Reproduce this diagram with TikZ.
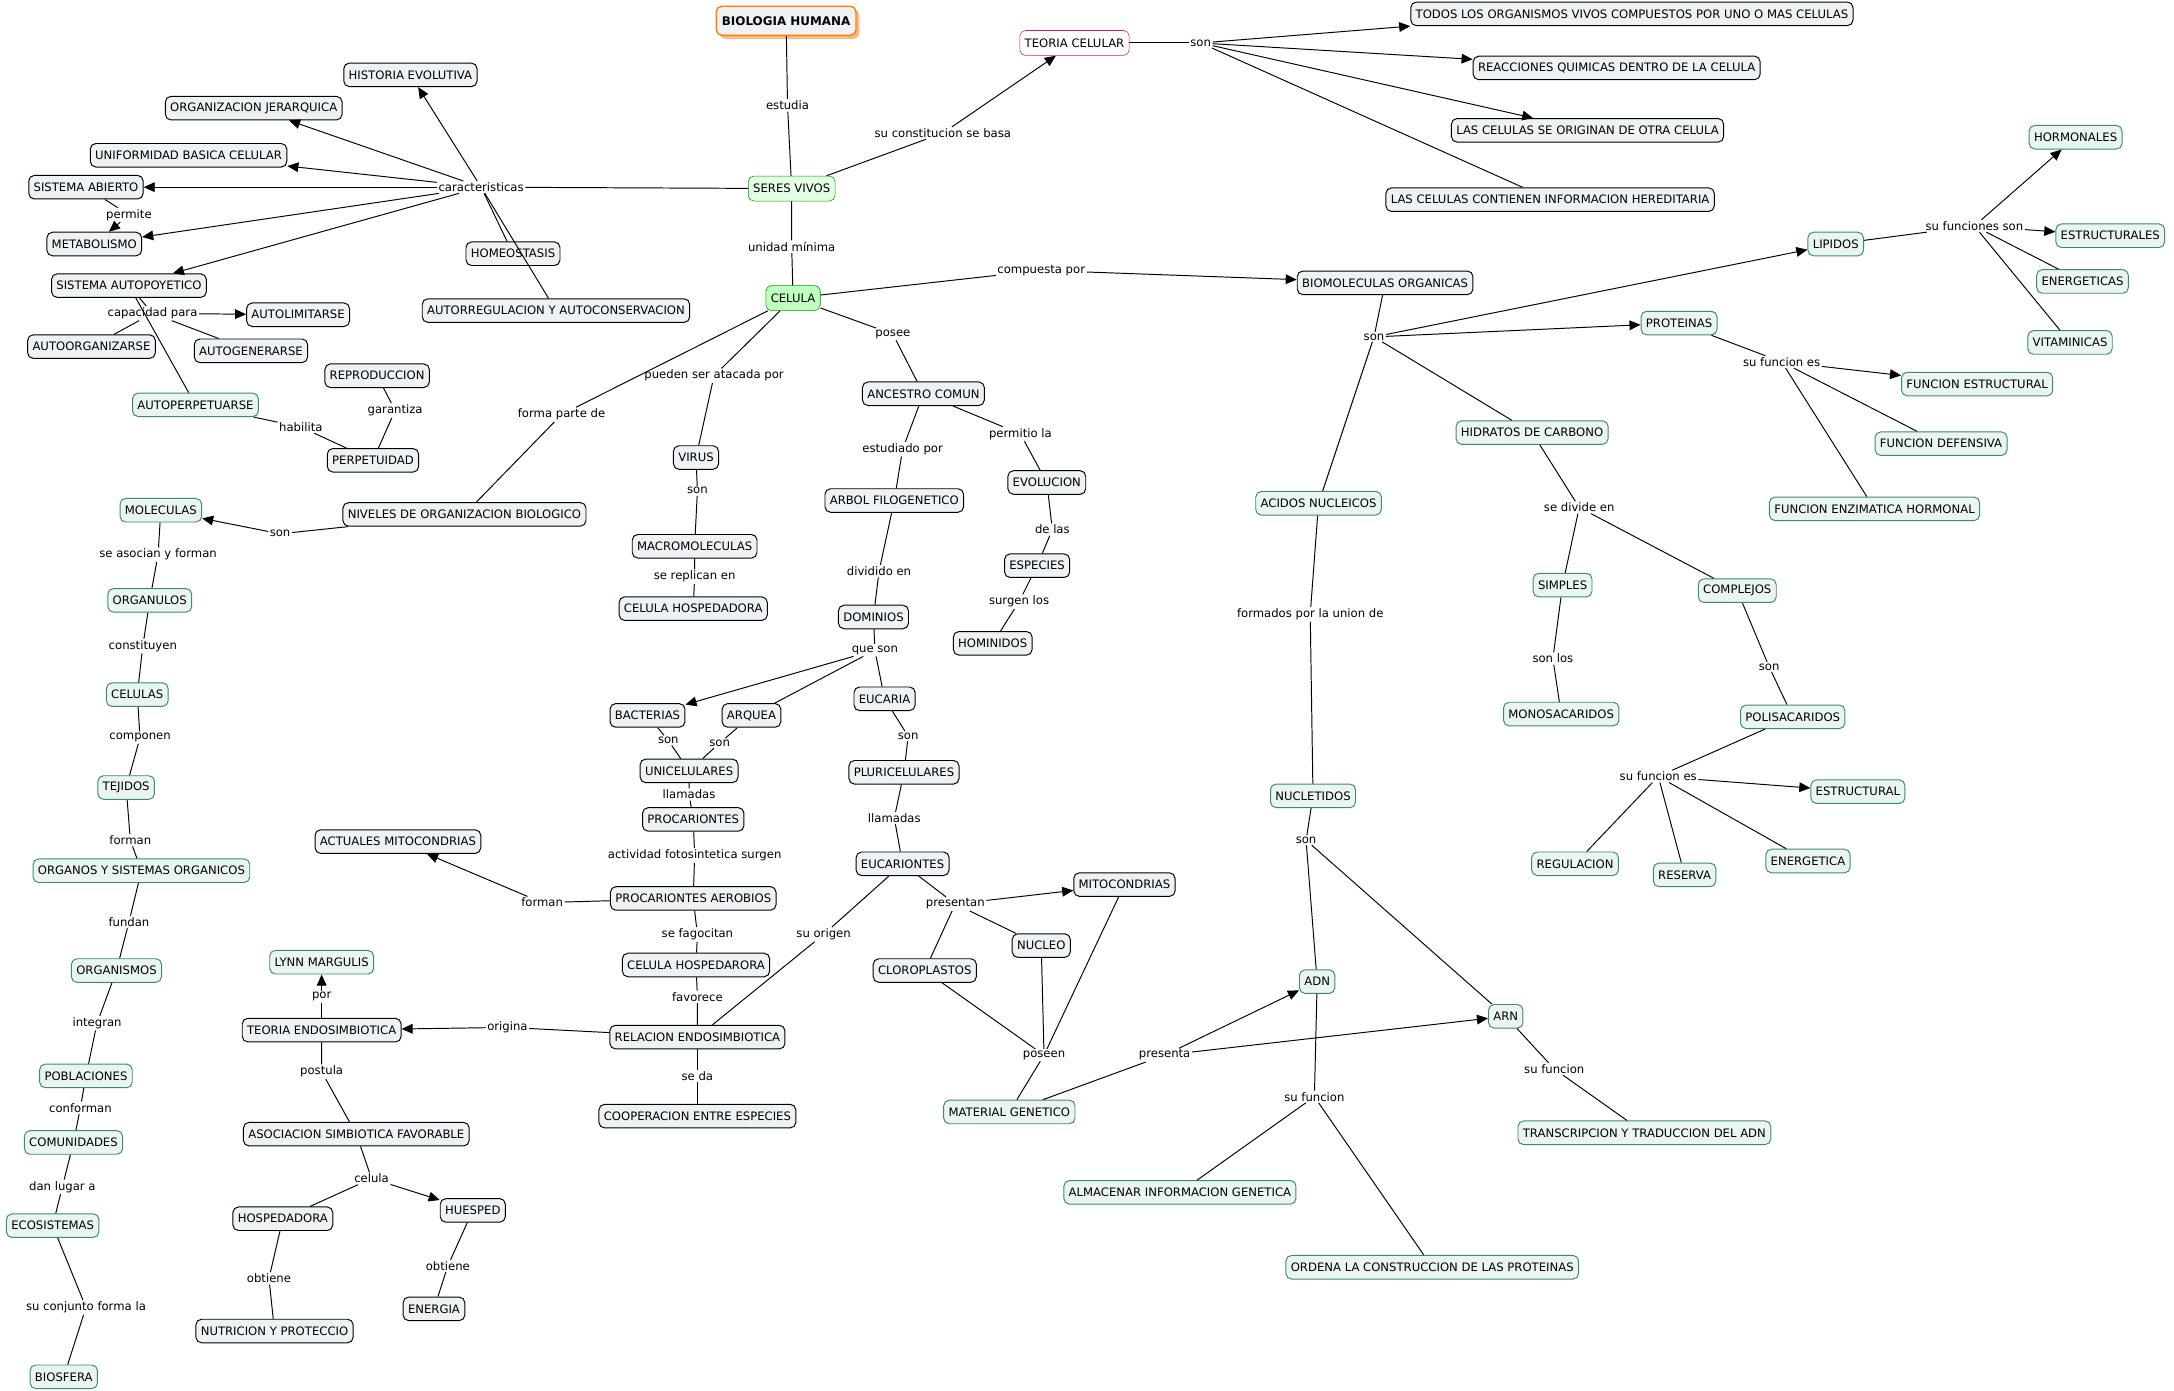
\documentclass[tikz,border=0pt]{standalone}
\usepackage{fontspec}
\setmainfont{DejaVu Sans}
\usetikzlibrary{arrows.meta,shadows}
\definecolor{dfill}{HTML}{EEF2F4}
\definecolor{gfill}{HTML}{EAF5F1}
\definecolor{gdraw}{HTML}{3D8A70}
\begin{document}
\begin{tikzpicture}[x=1pt,y=-1pt,
 every node/.style={font=\fontsize{8.4}{9.5}\selectfont},
 d/.style={draw=black,rounded corners=4pt,fill=dfill,inner sep=3.5pt,minimum height=17pt,line width=0.7pt},
 g/.style={draw=gdraw,rounded corners=4pt,fill=gfill,inner sep=3.5pt,minimum height=17pt,line width=0.7pt},
 l/.style={fill=white,inner sep=1pt},
 e/.style={draw,line width=0.7pt},
 a/.style={draw,line width=0.7pt,-{Triangle[length=8pt,width=7pt]}}]
\useasboundingbox (0,0) rectangle (1568,1003);
% nodes
\node[draw=orange,fill=dfill,rounded corners=4pt,line width=1pt,inner sep=4pt,minimum height=21pt,font=\fontsize{8.6}{10}\selectfont\bfseries,drop shadow={shadow xshift=2.5pt,shadow yshift=-2.5pt,fill=orange!90!red}] (bio) at (567,15) {BIOLOGIA HUMANA};
\node[draw=magenta!80!violet,fill=white,rounded corners=4pt,inner sep=3.5pt,minimum height=18pt] (teo) at (775,31) {TEORIA CELULAR};
\node[d] (todos) at (1177,10) {TODOS LOS ORGANISMOS VIVOS COMPUESTOS POR UNO O MAS CELULAS};
\node[d] (reac) at (1166,49) {REACCIONES QUIMICAS DENTRO DE LA CELULA};
\node[d] (orig) at (1145,94) {LAS CELULAS SE ORIGINAN DE OTRA CELULA};
\node[d] (cont) at (1118,144) {LAS CELULAS CONTIENEN INFORMACION HEREDITARIA};
\node[draw=green!60!black,fill=green!10,rounded corners=4pt,inner sep=3.5pt,minimum height=18pt] (ser) at (571,136) {SERES VIVOS};
\node[d] (hist) at (296,54) {HISTORIA EVOLUTIVA};
\node[d] (jer) at (183,78) {ORGANIZACION JERARQUICA};
\node[d] (unif) at (136,112) {UNIFORMIDAD BASICA CELULAR};
\node[d] (sab) at (62,135) {SISTEMA ABIERTO};
\node[d] (met) at (68,176) {METABOLISMO};
\node[d] (sap) at (93,206) {SISTEMA AUTOPOYETICO};
\node[d] (hom) at (370,183) {HOMEOSTASIS};
\node[d] (autr) at (401,224) {AUTORREGULACION Y AUTOCONSERVACION};
\node[d] (alim) at (215,227) {AUTOLIMITARSE};
\node[d] (aorg) at (66,250) {AUTOORGANIZARSE};
\node[d] (agen) at (181,253) {AUTOGENERARSE};
\node[g] (aper) at (141,292) {AUTOPERPETUARSE};
\node[d] (rep) at (272,271) {REPRODUCCION};
\node[d] (perp) at (269,332) {PERPETUIDAD};
\node[draw=green!60!black,fill=green!25,rounded corners=4pt,inner sep=3.5pt,minimum height=18pt] (cel) at (572,215) {CELULA};
\node[d] (biom) at (999,204) {BIOMOLECULAS ORGANICAS};
\node[d] (vir) at (502,330) {VIRUS};
\node[d] (mac) at (501,394) {MACROMOLECULAS};
\node[d] (chos) at (500,439) {CELULA HOSPEDADORA};
\node[d] (anc) at (666,284) {ANCESTRO COMUN};
\node[d] (arb) at (645,361) {ARBOL FILOGENETICO};
\node[d] (evo) at (755,348) {EVOLUCION};
\node[d] (esp) at (748,408) {ESPECIES};
\node[d] (homi) at (716,464) {HOMINIDOS};
\node[d] (dom) at (630,445) {DOMINIOS};
\node[d] (bac) at (467,516) {BACTERIAS};
\node[d] (arq) at (542,516) {ARQUEA};
\node[d] (euc) at (638,504) {EUCARIA};
\node[d] (uni) at (497,556) {UNICELULARES};
\node[d] (pro) at (500,591) {PROCARIONTES};
\node[d] (proa) at (500,648) {PROCARIONTES AEROBIOS};
\node[d] (act) at (287,607) {ACTUALES MITOCONDRIAS};
\node[d] (chr) at (502,696) {CELULA HOSPEDARORA};
\node[d] (rel) at (503,748) {RELACION ENDOSIMBIOTICA};
\node[d] (ten) at (232,743) {TEORIA ENDOSIMBIOTICA};
\node[g] (lynn) at (232,694) {LYNN MARGULIS};
\node[d] (aso) at (257,818) {ASOCIACION SIMBIOTICA FAVORABLE};
\node[d] (hosp) at (204,879) {HOSPEDADORA};
\node[d] (hue) at (341,873) {HUESPED};
\node[d] (nut) at (198,960) {NUTRICION Y PROTECCIO};
\node[d] (ene) at (313,944) {ENERGIA};
\node[d] (coop) at (503,805) {COOPERACION ENTRE ESPECIES};
\node[d] (plu) at (652,557) {PLURICELULARES};
\node[d] (eucs) at (651,623) {EUCARIONTES};
\node[d] (mit) at (811,638) {MITOCONDRIAS};
\node[d] (nuc) at (751,682) {NUCLEO};
\node[d] (clo) at (667,700) {CLOROPLASTOS};
\node[g] (mat) at (728,802) {MATERIAL GENETICO};
\node[g] (adn) at (950,708) {ADN};
\node[g] (arn) at (1086,733) {ARN};
\node[d] (niv) at (335,371) {NIVELES DE ORGANIZACION BIOLOGICO};
\node[g] (mol) at (116,368) {MOLECULAS};
\node[g] (orgl) at (108,433) {ORGANULOS};
\node[g] (cels) at (99,501) {CELULAS};
\node[g] (tej) at (91,568) {TEJIDOS};
\node[g] (orgs) at (102,628) {ORGANOS Y SISTEMAS ORGANICOS};
\node[g] (orgm) at (84,700) {ORGANISMOS};
\node[g] (pob) at (62,776) {POBLACIONES};
\node[g] (com) at (53,824) {COMUNIDADES};
\node[g] (eco) at (38,884) {ECOSISTEMAS};
\node[g] (bios) at (46,993) {BIOSFERA};
\node[g] (lip) at (1324,176) {LIPIDOS};
\node[g] (prot) at (1211,233) {PROTEINAS};
\node[g] (hid) at (1105,312) {HIDRATOS DE CARBONO};
\node[g] (acn) at (951,363) {ACIDOS NUCLEICOS};
\node[g] (horm) at (1497,99) {HORMONALES};
\node[g] (estr) at (1522,170) {ESTRUCTURALES};
\node[g] (ener) at (1502,203) {ENERGETICAS};
\node[g] (vit) at (1493,247) {VITAMINICAS};
\node[g] (fest) at (1426,277) {FUNCION ESTRUCTURAL};
\node[g] (fdef) at (1400,320) {FUNCION DEFENSIVA};
\node[g] (fenz) at (1352,367) {FUNCION ENZIMATICA HORMONAL};
\node[g] (simp) at (1127,422) {SIMPLES};
\node[g] (comp) at (1253,426) {COMPLEJOS};
\node[g] (mono) at (1126,515) {MONOSACARIDOS};
\node[g] (poli) at (1293,517) {POLISACARIDOS};
\node[g] (cest) at (1340,571) {ESTRUCTURAL};
\node[g] (creg) at (1136,623) {REGULACION};
\node[g] (cres) at (1215,631) {RESERVA};
\node[g] (cene) at (1304,621) {ENERGETICA};
\node[g] (nucl) at (947,574) {NUCLETIDOS};
\node[g] (trad) at (1186,817) {TRANSCRIPCION Y TRADUCCION DEL ADN};
\node[g] (alm) at (851,860) {ALMACENAR INFORMACION GENETICA};
\node[g] (ord) at (1033,914) {ORDENA LA CONSTRUCCION DE LAS PROTEINAS};
% labels
\node[l] (l1) at (568,76) {estudia};
\node[l] (l2) at (866,31) {son};
\node[l] (l3) at (680,96) {su constitucion se basa};
\node[l] (l4) at (347,135) {caracteristicas};
\node[l] (l5) at (93,155) {permite};
\node[l] (l6) at (110,226) {capacidad para};
\node[l] (l7) at (217,308) {habilita};
\node[l] (l8) at (285,296) {garantiza};
\node[l] (l9) at (571,178) {unidad mínima};
\node[l] (l10) at (751,195) {compuesta por};
\node[l] (l11) at (405,299) {forma parte de};
\node[l] (l12) at (515,271) {pueden ser atacada por};
\node[l] (l13) at (644,241) {posee};
\node[l] (l14) at (503,354) {son};
\node[l] (l15) at (501,416) {se replican en};
\node[l] (l16) at (651,324) {estudiado por};
\node[l] (l17) at (736,313) {permitio la};
\node[l] (l18) at (759,382) {de las};
\node[l] (l19) at (735,434) {surgen los};
\node[l] (l20) at (634,412) {dividido en};
\node[l] (l21) at (631,469) {que son};
\node[l] (l22) at (482,534) {son};
\node[l] (l23) at (519,536) {son};
\node[l] (l24) at (655,531) {son};
\node[l] (l25) at (497,573) {llamadas};
\node[l] (l26) at (501,617) {actividad fotosintetica surgen};
\node[l] (l27) at (391,651) {forman};
\node[l] (l28) at (503,674) {se fagocitan};
\node[l] (l29) at (503,719) {favorece};
\node[l] (l30) at (366,741) {origina};
\node[l] (l31) at (232,719) {por};
\node[l] (l32) at (232,773) {postula};
\node[l] (l33) at (268,850) {celula};
\node[l] (l34) at (194,922) {obtiene};
\node[l] (l35) at (323,913) {obtiene};
\node[l] (l36) at (503,776) {se da};
\node[l] (l37) at (645,590) {llamadas};
\node[l] (l38) at (594,674) {su origen};
\node[l] (l39) at (689,652) {presentan};
\node[l] (l40) at (753,761) {poseen};
\node[l] (l41) at (840,761) {presenta};
\node[l] (l42) at (202,385) {son};
\node[l] (l43) at (114,400) {se asocian y forman};
\node[l] (l44) at (103,466) {constituyen};
\node[l] (l45) at (101,532) {componen};
\node[l] (l46) at (94,606) {forman};
\node[l] (l47) at (93,665) {fundan};
\node[l] (l48) at (70,738) {integran};
\node[l] (l49) at (58,799) {conforman};
\node[l] (l50) at (45,856) {dan lugar a};
\node[l] (l51) at (62,943) {su conjunto forma la};
\node[l] (l52) at (991,243) {son};
\node[l] (l53) at (1424,163) {su funciones son};
\node[l] (l54) at (1285,261) {su funcion es};
\node[l] (l55) at (1139,366) {se divide en};
\node[l] (l56) at (1120,475) {son los};
\node[l] (l57) at (1276,481) {son};
\node[l] (l58) at (1196,560) {su funcion es};
\node[l] (l59) at (945,443) {formados por la union de};
\node[l] (l60) at (942,606) {son};
\node[l] (l61) at (1121,771) {su funcion};
\node[l] (l62) at (948,791) {su funcion};
% connectors
\path[e] (bio)--(l1)--(ser);
\path[e] (teo)--(l2); \path[a] (l2)--(todos.south west); \path[a] (l2)--(reac); \path[a] (l2)--(orig); \path[e] (l2)--(cont);
\path[e] (ser)--(l3); \path[a] (l3)--(teo);
\path[e] (ser)--(l4);
\path[a] (l4)--(hist); \path[a] (l4)--(jer); \path[a] (l4)--(unif); \path[a] (l4)--(sab); \path[a] (l4)--(met); \path[a] (l4)--(sap);
\path[e] (l4)--(hom); \path[e] (l4)--(autr);
\path[e] (sab)--(l5); \path[a] (l5)--(met);
\path[e] (sap)--(l6); \path[a] (l6)--(alim); \path[e] (l6)--(aorg); \path[e] (l6)--(agen); \path[e] (sap)--(aper);
\path[e] (aper)--(l7)--(perp);
\path[e] (rep)--(l8)--(perp);
\path[e] (ser)--(l9)--(cel);
\path[e] (cel)--(l10); \path[a] (l10)--(biom);
\path[e] (cel)--(l11)--(niv);
\path[e] (cel)--(l12)--(vir);
\path[e] (cel)--(l13)--(anc);
\path[e] (vir)--(l14)--(mac)--(l15)--(chos);
\path[e] (anc)--(l16)--(arb); \path[e] (anc)--(l17)--(evo)--(l18)--(esp)--(l19)--(homi);
\path[e] (arb)--(l20)--(dom)--(l21); \path[a] (l21)--(bac); \path[e] (l21)--(arq); \path[e] (l21)--(euc);
\path[e] (bac)--(l22)--(uni); \path[e] (arq)--(l23)--(uni);
\path[e] (euc)--(l24)--(plu)--(l37)--(eucs);
\path[e] (uni)--(l25)--(pro)--(l26)--(proa);
\path[e] (proa)--(l27); \path[a] (l27)--(act);
\path[e] (proa)--(l28)--(chr)--(l29)--(rel);
\path[e] (rel)--(l30); \path[a] (l30)--(ten);
\path[e] (ten)--(l31); \path[a] (l31)--(lynn);
\path[e] (ten)--(l32)--(aso)--(l33); \path[a] (l33)--(hue); \path[e] (l33)--(hosp);
\path[e] (hosp)--(l34)--(nut); \path[e] (hue)--(l35)--(ene);
\path[e] (rel)--(l36)--(coop);
\path[e] (eucs)--(l38)--(rel);
\path[e] (eucs)--(l39); \path[a] (l39)--(mit); \path[e] (l39)--(nuc); \path[e] (l39)--(clo);
\path[e] (clo)--(l40); \path[e] (nuc)--(l40); \path[e] (mit)--(l40); \path[e] (l40)--(mat);
\path[e] (mat)--(l41); \path[a] (l41)--(adn); \path[a] (l41)--(arn);
\path[e] (niv)--(l42); \path[a] (l42)--(mol);
\path[e] (mol)--(l43)--(orgl)--(l44)--(cels)--(l45)--(tej)--(l46)--(orgs)--(l47)--(orgm)--(l48)--(pob)--(l49)--(com)--(l50)--(eco)--(l51)--(bios);
\path[e] (biom)--(l52); \path[a] (l52)--(lip); \path[a] (l52)--(prot); \path[e] (l52)--(hid); \path[e] (l52)--(acn);
\path[e] (lip)--(l53); \path[a] (l53)--(horm); \path[a] (l53)--(estr); \path[e] (l53)--(ener); \path[e] (l53)--(vit);
\path[e] (prot)--(l54); \path[a] (l54)--(fest); \path[e] (l54)--(fdef); \path[e] (l54)--(fenz);
\path[e] (hid)--(l55); \path[e] (l55)--(simp); \path[e] (l55)--(comp);
\path[e] (simp)--(l56)--(mono); \path[e] (comp)--(l57)--(poli);
\path[e] (poli)--(l58); \path[a] (l58)--(cest); \path[e] (l58)--(creg); \path[e] (l58)--(cres); \path[e] (l58)--(cene);
\path[e] (acn)--(l59)--(nucl)--(l60); \path[e] (l60)--(adn); \path[e] (l60)--(arn);
\path[e] (arn)--(l61)--(trad);
\path[e] (adn)--(l62); \path[e] (l62)--(alm); \path[e] (l62)--(ord);
\end{tikzpicture}
\end{document}
